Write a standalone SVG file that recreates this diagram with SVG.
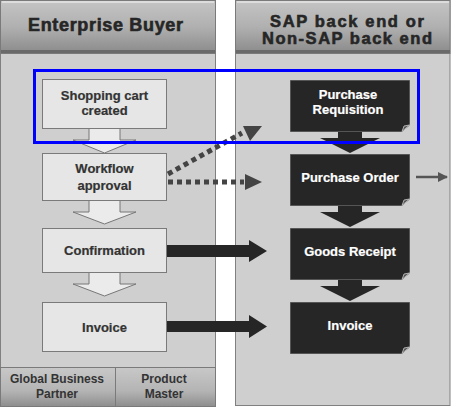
<svg xmlns="http://www.w3.org/2000/svg" width="451" height="407" viewBox="0 0 451 407">
<defs>
<linearGradient id="hdr" x1="0" y1="0" x2="0" y2="1">
<stop offset="0" stop-color="#c4c4c4"/>
<stop offset="0.5" stop-color="#b0b0b0"/>
<stop offset="1" stop-color="#8a8a8a"/>
</linearGradient>
<linearGradient id="btn" x1="0" y1="0" x2="0" y2="1">
<stop offset="0" stop-color="#c8c8c8"/>
<stop offset="0.6" stop-color="#b4b4b4"/>
<stop offset="1" stop-color="#8e8e8e"/>
</linearGradient>
<marker id="sm" viewBox="0 0 10 10" refX="9" refY="5" markerWidth="4" markerHeight="4" orient="auto">
<path d="M0,0 L10,5 L0,10 z" fill="#555"/>
</marker>
</defs>
<style>
.panel{fill:#cfcfcf;stroke:#808080;stroke-width:1}
.hdr{fill:url(#hdr);stroke:#7a7a7a;stroke-width:1}
.btn{fill:url(#btn);stroke:#7a7a7a;stroke-width:1}
.ht{font-family:"Liberation Sans",Arial,sans-serif;font-weight:bold;font-size:18px;fill:#262626;stroke:#262626;stroke-width:0.6;text-anchor:middle}
.ht2{font-family:"Liberation Sans",Arial,sans-serif;font-weight:bold;font-size:16.5px;fill:#262626;stroke:#262626;stroke-width:0.6;text-anchor:middle}
.ft{font-family:"Liberation Sans",Arial,sans-serif;font-weight:bold;font-size:12px;fill:#333;text-anchor:middle}
.lb{fill:#e6e6e6;stroke:#7a7a7a;stroke-width:1}
.lt{font-family:"Liberation Sans",Arial,sans-serif;font-weight:bold;font-size:13px;fill:#333;stroke:#333;stroke-width:0.2;text-anchor:middle}
.db{fill:#262626;stroke:#555;stroke-width:1}
.dt{font-family:"Liberation Sans",Arial,sans-serif;font-weight:bold;font-size:13px;fill:#fff;stroke:#fff;stroke-width:0.2;text-anchor:middle}
.fold{fill:#555;stroke:#ccc;stroke-width:0.8}
.la{fill:#ebebeb;stroke:#777;stroke-width:1}
.da{fill:#262626}
.dot{stroke:#444;stroke-width:5;stroke-dasharray:5,4;fill:none}
</style>
<rect width="451" height="407" fill="#ffffff"/>
<g id="left-panel">
<rect class="panel" x="0.5" y="0.5" width="215" height="406"/>
<rect class="hdr" x="0.5" y="0.5" width="215" height="53"/>
<path d="M2,2 L214,2" stroke="#dcdcdc" stroke-width="2"/>
<path d="M1,51.5 L215,51.5" stroke="#6a6a6a" stroke-width="3"/>
<text class="ht" x="105.5" y="31" textLength="155" lengthAdjust="spacing">Enterprise Buyer</text>
</g>
<g id="right-panel">
<rect class="panel" x="235.5" y="0.5" width="214.5" height="405"/>
<rect class="hdr" x="235.5" y="0.5" width="214.5" height="53"/>
<path d="M237,2 L449,2" stroke="#dcdcdc" stroke-width="2"/>
<path d="M236,51.5 L450,51.5" stroke="#6a6a6a" stroke-width="3"/>
<text class="ht2" x="347" y="27" textLength="154" lengthAdjust="spacing">SAP back end or</text>
<text class="ht2" x="347" y="44" textLength="170" lengthAdjust="spacing">Non-SAP back end</text>
</g>
<g id="global-business-partner">
<rect class="btn" x="0.5" y="367.5" width="115" height="39"/>
<text class="ft" x="57" y="383">Global Business</text>
<text class="ft" x="57" y="398">Partner</text>
</g>
<g id="product-master">
<rect class="btn" x="115.5" y="367.5" width="100" height="39"/>
<text class="ft" x="164" y="383">Product</text>
<text class="ft" x="164" y="398">Master</text>
</g>
<g id="connectors">
<path class="la" d="M89,128 L120,128 L120,140 L136,140 L104.5,153 L73,140 L89,140 z"/>
<path class="la" d="M89,200 L120,200 L120,212 L136,212 L104.5,224 L73,212 L89,212 z"/>
<path class="la" d="M89,272 L120,272 L120,284 L136,284 L104.5,296 L73,284 L89,284 z"/>
<path class="da" d="M338,130 L362,130 L362,138 L380,138 L350,153 L320,138 L338,138 z"/>
<path class="da" d="M338,204 L362,204 L362,212 L380,212 L350,227 L320,212 L338,212 z"/>
<path class="da" d="M338,278 L362,278 L362,286 L380,286 L350,301 L320,286 L338,286 z"/>
<path class="da" d="M167,245 L249,245 L249,240 L267,251 L249,262 L249,257 L167,257 z"/>
<path class="da" d="M167,321 L249,321 L249,315 L267,326.5 L249,338 L249,332 L167,332 z"/>
<path class="dot" d="M168,182 L244,182"/>
<path d="M245,174 L262,182 L245,190 z" fill="#444"/>
<path class="dot" d="M168,174 L242,133"/>
<path d="M243,126 L262,126 L250,141 z" fill="#444"/>
<path d="M416,177 L447,177" stroke="#555" stroke-width="2.5" marker-end="url(#sm)"/>
</g>
<g id="shopping-cart">
<rect class="lb" x="42.5" y="79.5" width="124" height="49"/>
<text class="lt" x="104.5" y="100">Shopping cart</text>
<text class="lt" x="104.5" y="115">created</text>
</g>
<g id="workflow-approval">
<rect class="lb" x="42.5" y="153.5" width="124" height="47"/>
<text class="lt" x="104.5" y="173">Workflow</text>
<text class="lt" x="104.5" y="190">approval</text>
</g>
<g id="confirmation">
<rect class="lb" x="42.5" y="228.5" width="124" height="44"/>
<text class="lt" x="104.5" y="255">Confirmation</text>
</g>
<g id="invoice-left">
<rect class="lb" x="42.5" y="302.5" width="124" height="49"/>
<text class="lt" x="104.5" y="332">Invoice</text>
</g>
<g id="purchase-requisition">
<path class="db" d="M290.5,80.5 L409.5,80.5 L409.5,125 L402,131.5 L290.5,131.5 z"/>
<path class="fold" d="M402,131.5 L404,126 L409.5,125 z"/>
<text class="dt" x="348" y="99">Purchase</text>
<text class="dt" x="348" y="114">Requisition</text>
</g>
<g id="purchase-order">
<path class="db" d="M290.5,154.5 L409.5,154.5 L409.5,199 L402,205.5 L290.5,205.5 z"/>
<path class="fold" d="M402,205.5 L404,200 L409.5,199 z"/>
<text class="dt" x="350" y="182">Purchase Order</text>
</g>
<g id="goods-receipt">
<path class="db" d="M290.5,228.5 L409.5,228.5 L409.5,273 L402,279.5 L290.5,279.5 z"/>
<path class="fold" d="M402,279.5 L404,274 L409.5,273 z"/>
<text class="dt" x="350" y="256">Goods Receipt</text>
</g>
<g id="invoice-right">
<path class="db" d="M290.5,302.5 L409.5,302.5 L409.5,347 L402,353.5 L290.5,353.5 z"/>
<path class="fold" d="M402,353.5 L404,348 L409.5,347 z"/>
<text class="dt" x="350" y="330">Invoice</text>
</g>
<g id="highlight">
<rect x="34.5" y="70.5" width="384" height="72" fill="none" stroke="#0000ff" stroke-width="3"/>
</g>
</svg>
